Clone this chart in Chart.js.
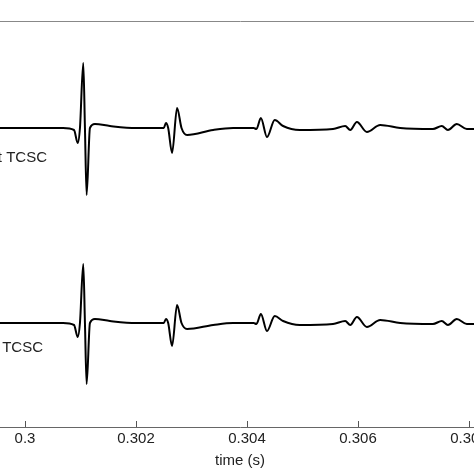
<!DOCTYPE html>
<html><head><meta charset="utf-8">
<script src="https://cdn.jsdelivr.net/npm/chart.js@4/dist/chart.umd.min.js"></script>
<style>html,body{margin:0;padding:0;background:#fff;overflow:hidden;width:474px;height:474px}
#w{position:absolute;left:-40px;top:0;width:560px;height:474px}</style>
</head><body><div id="w"><canvas id="c"></canvas></div>
<script>
const times = [0.2988,0.300685,0.300883,0.30095,0.30099,0.30105,0.30108,0.30111,0.30117,0.30126,0.30153,0.30200,0.30250,0.30254,0.30258,0.30265,0.30274,0.30282,0.30292,0.30339,0.30375,0.30412,0.30417,0.30425,0.30436,0.30450,0.30465,0.30495,0.30555,0.30577,0.30586,0.30598,0.30616,0.30640,0.30676,0.30735,0.30751,0.30762,0.30778,0.30796,0.3090];
const bottomDev = [0,0,-2,-14,0,59,0,-61,0,4,2,0,0,4,0,-23,18,0,-6,-2,0,0,-1,9,-8,7,2,-2,-1,2,-2,6,-4,3,0,-1,2,-2,4,-1,0];
const topDev = [0,0,-2,-15,0,65,0,-67,0,4,2,0,0,5,0,-25,20,0,-7,-2,0,0,-1,10,-9,8,2,-2,-1,2,-2,6,-4,3,0,-1,2,-2,4,-1,0];
const topBase = 299, bottomBase = 104;
const tickVals = [0.300,0.302,0.304,0.306,0.308];
const labels = [["without TCSC",47,158],["with TCSC",43,348]];

const pts = (dev, base) => times.map((t,i)=>({x:t,y:base+dev[i]}));
const deco = {id:'deco',afterDraw(ch){
  const c=ch.ctx, xs=ch.scales.x, a=ch.chartArea;
  c.save(); c.strokeStyle='#555'; c.lineWidth=1;
  xs.ticks.forEach(t=>{const px=Math.round(xs.getPixelForValue(t.value))+0.5;
    c.beginPath();c.moveTo(px,a.bottom);c.lineTo(px,a.bottom-6);c.stroke();});
  c.fillStyle='#222'; c.font='15px "Liberation Sans", Arial'; c.textAlign='right'; c.textBaseline='middle';
  labels.forEach(l=>c.fillText(l[0],l[1]+40,l[2]));
  c.restore();}};
new Chart(document.getElementById('c'),{
  type:'line',
  data:{datasets:[
    {data:pts(topDev,topBase),borderColor:'#000',borderWidth:2,pointRadius:0,cubicInterpolationMode:'monotone'},
    {data:pts(bottomDev,bottomBase),borderColor:'#000',borderWidth:2,pointRadius:0,cubicInterpolationMode:'monotone'}]},
  options:{responsive:true,maintainAspectRatio:false,animation:false,
    layout:{padding:{top:21,left:0,right:0,bottom:0}},
    plugins:{legend:{display:false},tooltip:{enabled:false}},
    scales:{
      x:{type:'linear',min:0.2988288,max:0.3089189,
        afterBuildTicks(s){s.ticks=tickVals.map(v=>({value:v}));},
        afterFit(s){s.height=47;},
        ticks:{autoSkip:false,maxRotation:0,padding:3,color:'#222',font:{family:'"Liberation Sans", Arial',size:15},
          callback:v=>String(+v.toFixed(3))},
        grid:{display:true,drawOnChartArea:false,drawTicks:false},
        border:{display:true,color:'#666',width:1},
        title:{display:true,text:'time (s)',color:'#222',padding:{top:0,bottom:4},font:{family:'"Liberation Sans", Arial',size:15}}},
      x2:{type:'linear',position:'top',min:0,max:1,afterFit(s){s.height=0;},ticks:{display:false},grid:{display:false,drawTicks:false},border:{display:true,color:'#888',width:1}},
      y:{min:0,max:406,display:false}
    }},
  plugins:[deco]});
</script></body></html>
